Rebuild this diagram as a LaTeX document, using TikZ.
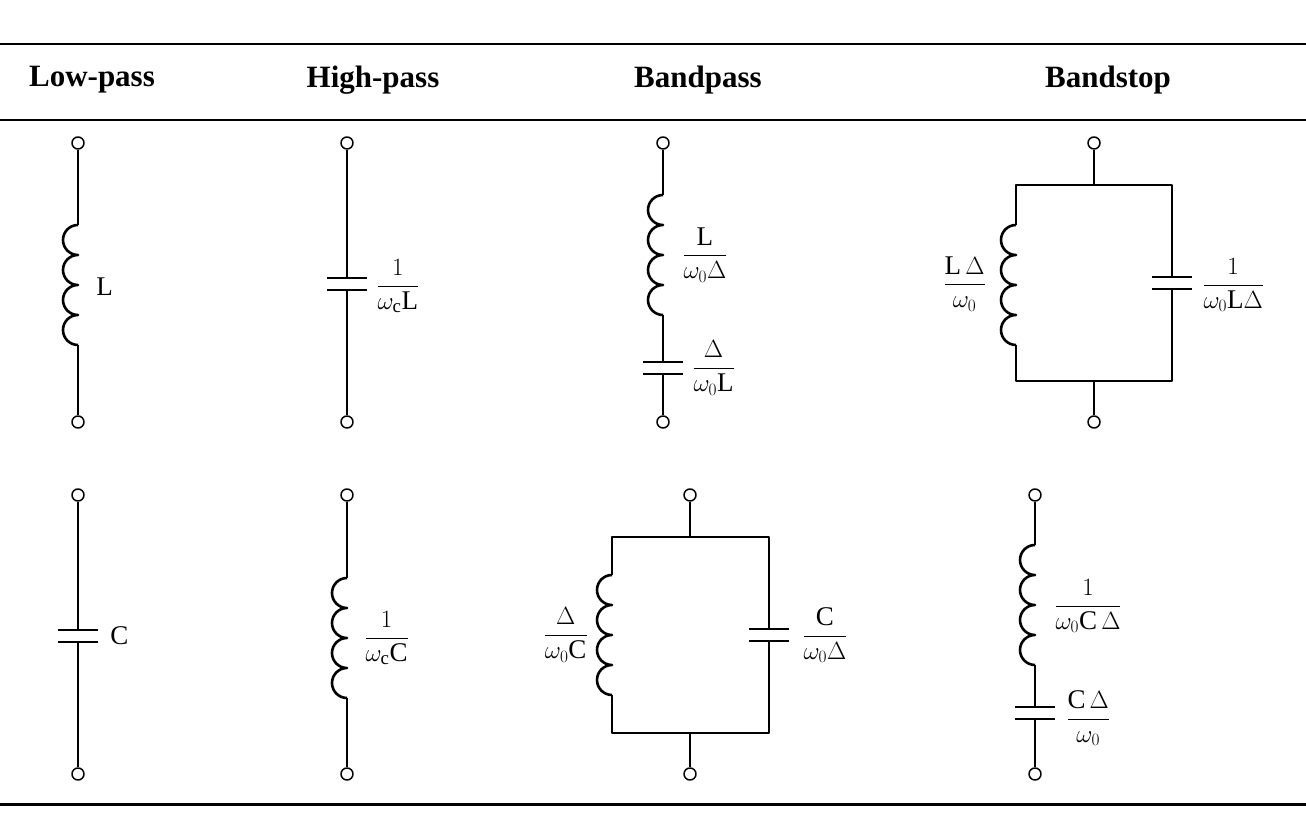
\documentclass[tikz,border=0pt]{standalone}
\usepackage{fontspec}
\setmainfont{Liberation Serif}
\begin{document}
\begin{tikzpicture}[x=1pt,y=1pt,line width=2.6pt,line join=round,
  term/.style={circle,draw,line width=1.5pt,fill=white,minimum size=12pt,inner sep=0pt},
  hdr/.style={font=\fontsize{31}{31}\selectfont\bfseries},
  lab/.style={font=\fontsize{27}{30}\selectfont,inner sep=1pt},
  ind/.pic={\draw (0,0) arc(90:270:15) arc(90:270:15) arc(90:270:15) arc(90:270:15);},
  cap/.pic={\draw (-20,6)--(20,6) (-20,-6)--(20,-6);}]
\useasboundingbox (0,0) rectangle (1306,816);
% rules
\draw[line width=1.5pt] (0,772)--(1306,772);
\draw[line width=1.5pt] (0,696)--(1306,696);
\draw[line width=3pt] (0,11)--(1306,11);
\node[hdr] (h1) at (92,736) {Low-pass};
\node[hdr] (h2) at (373,736) {High-pass};
\node[hdr] (h3) at (698,736) {Bandpass};
\node[hdr] (h4) at (1108,736) {Bandstop};
% Low-pass L
\node[term] (a1) at (78,673) {}; \node[term] (a2) at (78,394) {};
\draw (a1)--(78,591); \pic at (78,591) {ind}; \draw (78,471)--(a2);
\node[lab,anchor=west] (la) at (94,529) {L};
% Low-pass C
\node[term] (b1) at (78,321) {}; \node[term] (b2) at (78,42) {};
\draw (b1)--(78,186) (78,174)--(b2); \pic at (78,180) {cap};
\node[lab,anchor=west] (lb) at (108,180) {C};
% High-pass C
\node[term] (c1) at (347,673) {}; \node[term] (c2) at (347,394) {};
\draw (c1)--(347,538) (347,526)--(c2); \pic at (347,532) {cap};
\node[lab,anchor=west] (lc) at (374,530) {$\displaystyle\frac{1}{\omega_{\mathrm c}\mathrm{L}}$};
% High-pass L
\node[term] (d1) at (347,321) {}; \node[term] (d2) at (347,42) {};
\draw (d1)--(347,238); \pic at (347,238) {ind}; \draw (347,118)--(d2);
\node[lab,anchor=west] (ld) at (362,178) {$\displaystyle\frac{1}{\omega_{\mathrm c}\mathrm{C}}$};
% Bandpass series
\node[term] (e1) at (663,673) {}; \node[term] (e2) at (663,394) {};
\draw (e1)--(663,621); \pic at (663,621) {ind}; \draw (663,501)--(663,454) (663,442)--(e2);
\pic at (663,448) {cap};
\node[lab,anchor=west] (le1) at (680,561) {$\displaystyle\frac{\mathrm{L}}{\omega_0\Delta}$};
\node[lab,anchor=west] (le2) at (690,448) {$\displaystyle\frac{\Delta}{\omega_0\mathrm{L}}$};
% Bandpass parallel
\node[term] (f1) at (690,321) {}; \node[term] (f2) at (690,42) {};
\draw (f1)--(690,279) (690,83)--(f2);
\draw (612,279) rectangle (769,83);
\draw[white,line width=3pt] (612,241)--(612,121);
\pic at (612,241) {ind};
\draw[white,line width=3pt] (769,187)--(769,175);
\pic at (769,181) {cap};
\node[lab,anchor=east] (lf1) at (590,181) {$\displaystyle\frac{\Delta}{\omega_0\mathrm{C}}$};
\node[lab,anchor=west] (lf2) at (800,181) {$\displaystyle\frac{\mathrm{C}}{\omega_0\Delta}$};
% Bandstop parallel
\node[term] (g1) at (1094,673) {}; \node[term] (g2) at (1094,394) {};
\draw (g1)--(1094,631) (1094,435)--(g2);
\draw (1016,631) rectangle (1172,435);
\draw[white,line width=3pt] (1016,591)--(1016,471);
\pic at (1016,591) {ind};
\draw[white,line width=3pt] (1172,539)--(1172,527);
\pic at (1172,533) {cap};
\node[lab,anchor=east] (lg1) at (988,532) {$\displaystyle\frac{\mathrm{L}\,\Delta}{\omega_0}$};
\node[lab,anchor=west] (lg2) at (1200,531) {$\displaystyle\frac{1}{\omega_0\mathrm{L}\Delta}$};
% Bandstop series
\node[term] (k1) at (1035,321) {}; \node[term] (k2) at (1035,42) {};
\draw (k1)--(1035,271); \pic at (1035,271) {ind}; \draw (1035,151)--(1035,109) (1035,97)--(k2);
\pic at (1035,103) {cap};
\node[lab,anchor=west] (lk1) at (1052,210) {$\displaystyle\frac{1}{\omega_0\mathrm{C}\,\Delta}$};
\node[lab,anchor=west] (lk2) at (1064,98) {$\displaystyle\frac{\mathrm{C}\,\Delta}{\omega_0}$};
\end{tikzpicture}
\end{document}
